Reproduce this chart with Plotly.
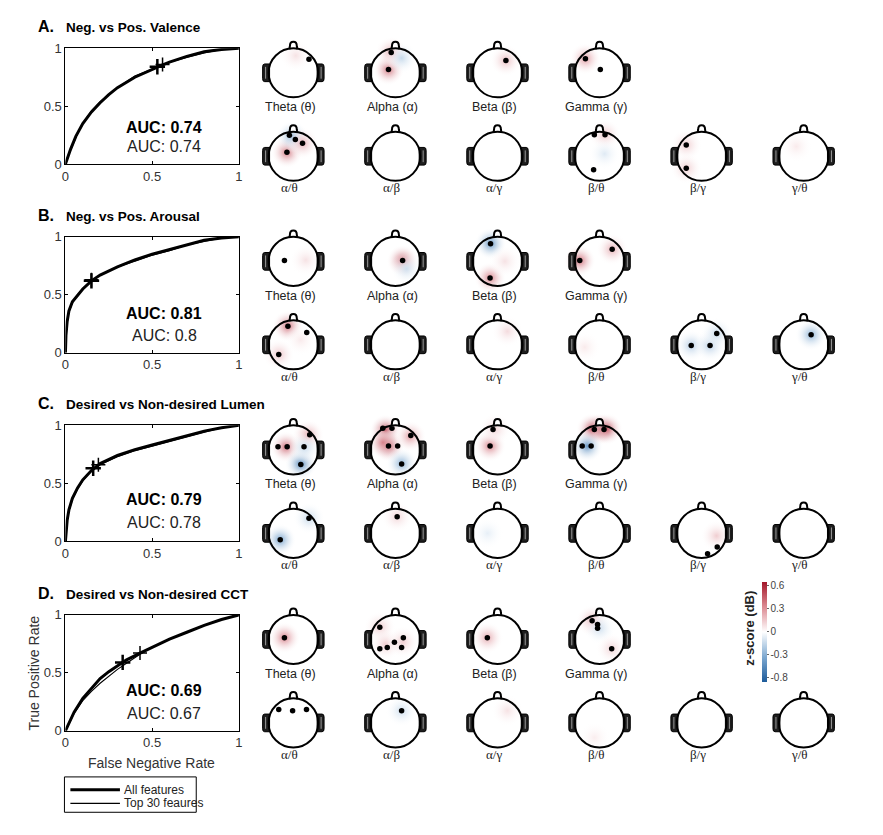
import plotly.graph_objects as go
from plotly.colors import sample_colorscale

# ---------------- DATA ----------------
panel_letters = ["A.", "B.", "C.", "D."]
panel_titles = ["Neg. vs Pos. Valence", "Neg. vs Pos. Arousal",
                "Desired vs Non-desired Lumen", "Desired vs Non-desired CCT"]
auc_all = ["0.74", "0.81", "0.79", "0.69"]
auc_top = ["0.74", "0.8", "0.78", "0.67"]

A_fpr = [0, 0.01, 0.03, 0.06, 0.1, 0.15, 0.2, 0.25, 0.3, 0.4, 0.5, 0.55, 0.6, 0.7, 0.8, 0.9, 1.0]
A_all = [0, 0.05, 0.13, 0.24, 0.35, 0.45, 0.53, 0.6, 0.66, 0.75, 0.82, 0.85, 0.88, 0.93, 0.97, 0.99, 1.0]
A_top = [0, 0.05, 0.12, 0.23, 0.35, 0.46, 0.54, 0.6, 0.66, 0.76, 0.82, 0.85, 0.88, 0.92, 0.96, 0.99, 1.0]
B_fpr = [0, 0.003, 0.01, 0.02, 0.04, 0.07, 0.1, 0.15, 0.2, 0.3, 0.4, 0.5, 0.6, 0.7, 0.8, 0.9, 1.0]
B_all = [0, 0.15, 0.27, 0.36, 0.44, 0.5, 0.55, 0.62, 0.67, 0.74, 0.8, 0.85, 0.89, 0.93, 0.97, 0.99, 1.0]
B_top = [0, 0.14, 0.26, 0.35, 0.43, 0.5, 0.55, 0.62, 0.67, 0.74, 0.79, 0.84, 0.88, 0.93, 0.96, 0.99, 1.0]
C_fpr = [0, 0.005, 0.01, 0.02, 0.04, 0.07, 0.1, 0.15, 0.2, 0.3, 0.4, 0.5, 0.6, 0.7, 0.8, 0.9, 1.0]
C_all = [0, 0.1, 0.18, 0.27, 0.37, 0.46, 0.53, 0.61, 0.67, 0.74, 0.79, 0.83, 0.87, 0.91, 0.95, 0.98, 1.0]
C_top = [0, 0.09, 0.17, 0.26, 0.36, 0.45, 0.52, 0.61, 0.66, 0.73, 0.78, 0.82, 0.86, 0.9, 0.94, 0.98, 1.0]
D_fpr = [0, 0.02, 0.05, 0.1, 0.15, 0.2, 0.25, 0.3, 0.35, 0.43, 0.5, 0.6, 0.7, 0.8, 0.9, 1.0]
D_all = [0, 0.07, 0.16, 0.28, 0.37, 0.45, 0.51, 0.56, 0.61, 0.67, 0.72, 0.79, 0.85, 0.91, 0.96, 1.0]
D_top = [0, 0.06, 0.15, 0.26, 0.34, 0.41, 0.47, 0.53, 0.58, 0.66, 0.72, 0.79, 0.85, 0.91, 0.96, 1.0]
roc_fpr = [A_fpr, B_fpr, C_fpr, D_fpr]
roc_all = [A_all, B_all, C_all, D_all]
roc_top = [A_top, B_top, C_top, D_top]
op_all = [(0.53, 0.84), (0.15, 0.62), (0.16, 0.63), (0.33, 0.59)]
op_top = [(0.56, 0.86), (0.15, 0.63), (0.19, 0.66), (0.43, 0.67)]

band_labels = ["Theta (θ)", "Alpha (α)", "Beta (β)", "Gamma (γ)"]
ratio_labels = ["α/θ", "α/β", "α/γ", "β/θ", "β/γ", "γ/θ"]

# selected-feature electrodes per head (head-relative, x right / y up)
dots_A = {0: [(0.63, 0.55)], 1: [(-0.17, 0.83), (-0.28, 0.13)], 2: [(0.34, 0.5)],
          3: [(-0.57, 0.57), (0.03, 0.13)],
          4: [(-0.16, 0.86), (0.08, 0.68), (0.37, 0.53), (-0.26, 0.16)],
          7: [(-0.21, 0.88), (0.22, 0.88), (-0.24, -0.55)], 8: [(-0.62, 0.46), (-0.62, -0.49)]}
dots_B = {0: [(-0.36, 0.03)], 1: [(0.29, 0.03)], 2: [(-0.28, 0.72), (-0.3, -0.68)],
          3: [(0.51, 0.49), (-0.8, 0.03)], 4: [(-0.22, 0.76), (0.54, 0.5), (-0.59, -0.39)],
          8: [(0.61, 0.46), (-0.42, -0.03), (0.34, -0.03)], 9: [(0.3, 0.41)]}
dots_C = {0: [(-0.62, 0.13), (-0.25, 0.13), (0.43, 0.13), (0.66, 0.62), (0.3, -0.59)],
          1: [(-0.51, 0.88), (-0.14, 0.88), (0.62, 0.59), (-0.28, 0.16), (0.09, 0.16), (0.25, -0.57)],
          2: [(-0.18, 0.83), (-0.3, 0.16)],
          3: [(-0.21, 0.83), (0.18, 0.83), (-0.7, 0.16), (-0.34, 0.16)],
          4: [(0.63, 0.62), (-0.53, -0.26)], 5: [(0.07, 0.68)], 8: [(0.63, -0.56), (0.24, -0.83)]}
dots_D = {0: [(-0.36, 0.07)],
          1: [(-0.63, 0.5), (-0.63, -0.38), (-0.33, -0.33), (-0.04, -0.11), (0.32, 0.07), (0.25, -0.33)],
          2: [(-0.41, 0.07)], 3: [(-0.3, 0.76), (-0.08, 0.61), (-0.08, 0.46), (0.49, -0.38)],
          4: [(-0.59, 0.55), (-0.03, 0.49), (0.53, 0.55)], 5: [(0.25, 0.49)]}
all_dots = [dots_A, dots_B, dots_C, dots_D]

# z-score blobs: (head, x, y, z)
blobs_A = [(0, 0.1, 0.7, 0.08), (1, -0.28, 0.13, 0.38), (1, -0.17, 0.83, 0.22), (1, 0.25, 0.6, -0.14),
           (2, 0.34, 0.5, 0.18), (3, -0.57, 0.57, 0.28), (4, -0.26, 0.16, 0.38), (4, -0.05, 0.8, -0.28),
           (4, 0.37, 0.53, 0.22), (7, 0.22, 0.88, 0.16), (7, 0.2, 0.1, -0.08), (8, -0.62, 0.46, 0.14),
           (8, -0.62, -0.49, 0.14), (9, -0.3, 0.4, 0.06)]
blobs_B = [(0, 0.5, 0.05, 0.08), (1, 0.29, 0.03, 0.45), (1, 0.45, -0.3, -0.12), (2, -0.28, 0.72, -0.4),
           (2, -0.3, -0.68, 0.35), (2, 0.3, 0.0, 0.08), (3, -0.8, 0.03, 0.4), (3, 0.51, 0.49, 0.22),
           (4, -0.22, 0.76, 0.4), (4, -0.59, -0.39, 0.16), (4, 0.3, 0.2, 0.06), (6, 0.4, 0.55, 0.1),
           (7, -0.6, -0.1, 0.06), (8, -0.42, -0.03, -0.18), (8, 0.34, -0.03, -0.18),
           (8, 0.61, 0.46, -0.14), (9, 0.3, 0.41, -0.28)]
blobs_C = [(0, -0.3, 0.12, 0.4), (0, 0.6, 0.6, 0.25), (0, 0.3, -0.57, -0.45), (0, 0.45, 0.1, -0.14),
           (1, -0.4, 0.8, 0.5), (1, -0.28, 0.16, 0.55), (1, -0.5, 0.3, 0.35), (1, 0.6, 0.55, 0.28),
           (1, 0.25, -0.55, -0.28), (2, -0.3, 0.16, 0.35), (2, -0.1, 0.85, 0.12),
           (3, 0.0, 0.85, 0.6), (3, -0.3, 0.85, 0.45), (3, 0.3, 0.85, 0.45), (3, -0.5, 0.15, -0.4),
           (4, -0.53, -0.26, -0.35), (4, 0.63, 0.62, -0.14), (5, 0.07, 0.68, 0.12), (6, -0.4, 0.0, -0.06),
           (8, 0.6, -0.1, 0.14)]
blobs_D = [(0, -0.36, 0.07, 0.35), (1, -0.63, 0.5, 0.14), (1, -0.4, -0.2, 0.14), (1, 0.3, -0.1, 0.14),
           (2, -0.41, 0.07, 0.24), (3, -0.3, 0.76, 0.22), (3, 0.0, 0.45, -0.12), (3, 0.49, -0.38, 0.12),
           (5, 0.25, 0.49, -0.12), (6, 0.4, 0.5, 0.08), (7, -0.2, -0.6, 0.05)]
all_blobs = [blobs_A, blobs_B, blobs_C, blobs_D]

cbar_vals = [0.6, 0.3, 0, -0.3, -0.6]
cbar_text = ["0.6", "0.3", "0", "-0.3", "-0.8"]

# ---------------- LAYOUT ----------------
W, H = 883, 835
FONT = "Arial, Liberation Sans, sans-serif"
SERIF = "Liberation Serif, Times New Roman, serif"
group_top = [20, 212, 404, 597]
roc_x0, roc_x1 = 62, 237
roc_off, roc_h = 22, 118
head_cx = [292, 395, 498, 601, 704, 807]
row_off = [47, 132]
R = 25
ZMIN, ZMAX = -0.65, 0.65
auc_bold_y = [0.32, 0.34, 0.36, 0.35]
auc_norm_y = [0.155, 0.145, 0.165, 0.145]

fig = go.Figure()
layout = dict(width=W, height=H, margin=dict(l=0, r=0, t=0, b=0),
              paper_bgcolor="white", plot_bgcolor="rgba(0,0,0,0)", showlegend=False,
              font=dict(family=FONT, color="#222"))
annotations = []
shapes = []

for i in range(4):
    k = i + 1
    top = group_top[i] + roc_off
    bot = top + roc_h
    ax = dict(domain=[roc_x0 / W, roc_x1 / W], range=[0, 1], showgrid=False, zeroline=False,
              showline=True, linecolor="black", linewidth=1, mirror="ticks", ticks="inside",
              ticklen=3, tickcolor="black", tickvals=[0, 0.5, 1], ticktext=["0", "0.5", "1"],
              tickfont=dict(size=13, color="#333"), anchor=f"y{k}", fixedrange=True)
    ay = dict(ax)
    ay["domain"] = [1 - bot / H, 1 - top / H]
    ay["anchor"] = f"x{k}"
    layout[f"xaxis{k}"] = ax
    layout[f"yaxis{k}"] = ay
    xa, ya = f"x{k}", f"y{k}"
    fig.add_trace(go.Scatter(x=roc_fpr[i], y=roc_top[i], mode="lines", xaxis=xa, yaxis=ya,
                             line=dict(color="black", width=1.1), name="Top 30 feaures"))
    fig.add_trace(go.Scatter(x=roc_fpr[i], y=roc_all[i], mode="lines", xaxis=xa, yaxis=ya,
                             line=dict(color="black", width=3), name="All features"))
    fig.add_trace(go.Scatter(x=[op_top[i][0]], y=[op_top[i][1]], mode="markers", xaxis=xa, yaxis=ya,
                             marker=dict(symbol="cross-thin", size=10, line=dict(color="black", width=1.5))))
    fig.add_trace(go.Scatter(x=[op_all[i][0]], y=[op_all[i][1]], mode="markers", xaxis=xa, yaxis=ya,
                             marker=dict(symbol="cross-thin", size=11, line=dict(color="black", width=2.5))))
    annotations.append(dict(xref=xa, yref=ya, x=0.57, y=auc_bold_y[i], text="<b>AUC: " + auc_all[i] + "</b>",
                            showarrow=False, font=dict(size=16, color="black")))
    annotations.append(dict(xref=xa, yref=ya, x=0.57, y=auc_norm_y[i], text="AUC: " + auc_top[i],
                            showarrow=False, font=dict(size=16, color="#222")))
    annotations.append(dict(xref="x5", yref="y5", x=32, y=group_top[i], xanchor="left", yanchor="middle",
                            text="<b>" + panel_letters[i] + "</b>", showarrow=False, font=dict(size=16, color="black")))
    annotations.append(dict(xref="x5", yref="y5", x=61, y=group_top[i] + 1, xanchor="left", yanchor="middle",
                            text="<b>" + panel_titles[i] + "</b>", showarrow=False, font=dict(size=13.5, color="black")))

layout["xaxis5"] = dict(domain=[0, 1], range=[0, W], visible=False, anchor="y5", fixedrange=True)
layout["yaxis5"] = dict(domain=[0, 1], range=[H, 0], visible=False, anchor="x5", fixedrange=True)


def head_center(g, h):
    if h < 4:
        return head_cx[h], group_top[g] + row_off[0]
    return head_cx[h - 4], group_top[g] + row_off[1]


bx, by, bcol = [], [], []
dx, dy = [], []
cscale = [[0, "#1d5b9a"], [0.25, "#7ea9d1"], [0.5, "#ffffff"], [0.75, "#dc8b93"], [1, "#a3172b"]]

for g in range(4):
    for h in range(10):
        cx, cy = head_center(g, h)
        t = cy - R
        shapes.append(dict(type="path", xref="x5", yref="y5",
                           path=f"M {cx-4},{t+1} L {cx-3.5},{t-2} C {cx-3.5},{t-8} {cx+3.5},{t-8} {cx+3.5},{t-2} L {cx+4},{t+1}",
                           line=dict(color="black", width=2), fillcolor="white", layer="above"))
        for s in (-1, 1):
            e0 = cx + s * (R - 1)
            e1 = cx + s * (R + 6)
            shapes.append(dict(type="path", xref="x5", yref="y5",
                               path=f"M {e0},{cy-9} L {e1-s*2},{cy-9} Q {e1},{cy-9} {e1},{cy-6} L {e1},{cy+6} Q {e1},{cy+9} {e1-s*2},{cy+9} L {e0},{cy+9} Z",
                               line=dict(color="black", width=1), fillcolor="#1e1e1e", layer="above"))
            shapes.append(dict(type="line", xref="x5", yref="y5", x0=cx + s * (R + 3), x1=cx + s * (R + 3),
                               y0=cy - 6, y1=cy + 6, line=dict(color="#9a9a9a", width=1), layer="above"))
        shapes.append(dict(type="circle", xref="x5", yref="y5", x0=cx - R, x1=cx + R, y0=cy - R, y1=cy + R,
                           line=dict(color="black", width=2), layer="above"))
        for (ux, uy) in all_dots[g].get(h, []):
            dx.append(cx + ux * R)
            dy.append(cy - uy * R)
        if h < 4:
            annotations.append(dict(xref="x5", yref="y5", x=cx - 3, y=cy + 35, text=band_labels[h],
                                    showarrow=False, font=dict(size=12.5, color="#222")))
        else:
            annotations.append(dict(xref="x5", yref="y5", x=cx - 4, y=cy + 32, text=ratio_labels[h - 4],
                                    showarrow=False, font=dict(size=13, family=SERIF, color="#222")))
    for (h, ux, uy, z) in all_blobs[g]:
        cx, cy = head_center(g, h)
        bx.append(cx + ux * R)
        by.append(cy - uy * R)
        bcol.append(sample_colorscale(cscale, [(z - ZMIN) / (ZMAX - ZMIN)])[0])

# z-score blobs: colour at centre fading to transparent at the rim
fig.add_trace(go.Scatter(x=bx, y=by, mode="markers", xaxis="x5", yaxis="y5", hoverinfo="skip",
                         marker=dict(size=32, color="rgba(255,255,255,0)",
                                     gradient=dict(type="radial", color=bcol), line=dict(width=0))))
# colour bar carrier
fig.add_trace(go.Scatter(x=[bx[0]], y=[by[0]], mode="markers", xaxis="x5", yaxis="y5", hoverinfo="skip",
                         marker=dict(size=1, opacity=0, color=[0], colorscale=cscale, cmin=ZMIN, cmax=ZMAX,
                                     showscale=True,
                                     colorbar=dict(x=765 / W, xanchor="left", y=1 - 636 / H, yanchor="middle",
                                                   len=100, lenmode="pixels", thickness=5, xpad=0, ypad=0,
                                                   outlinewidth=0, tickvals=cbar_vals, ticktext=cbar_text,
                                                   ticks="outside", ticklen=2, tickcolor="#666",
                                                   tickfont=dict(size=10, color="#444")))))
fig.add_trace(go.Scatter(x=dx, y=dy, mode="markers", xaxis="x5", yaxis="y5", hoverinfo="skip",
                         marker=dict(size=5.5, color="black")))

annotations.append(dict(xref="x5", yref="y5", x=752, y=633, text="<b>z-score (dB)</b>", textangle=-90,
                        showarrow=False, font=dict(size=13, color="#222")))
annotations.append(dict(xref="x5", yref="y5", x=30, y=678, text="True Positive Rate", textangle=-90,
                        showarrow=False, font=dict(size=14, color="#333")))
annotations.append(dict(xref="x5", yref="y5", x=149, y=770, text="False Negative Rate",
                        showarrow=False, font=dict(size=14, color="#333")))
shapes.append(dict(type="rect", xref="x5", yref="y5", x0=61, x1=194, y0=784, y1=820,
                   line=dict(color="black", width=1)))
shapes.append(dict(type="line", xref="x5", yref="y5", x0=67, x1=117, y0=797, y1=797,
                   line=dict(color="black", width=3)))
shapes.append(dict(type="line", xref="x5", yref="y5", x0=67, x1=117, y0=811, y1=811,
                   line=dict(color="black", width=1.2)))
annotations.append(dict(xref="x5", yref="y5", x=119, y=797, xanchor="left", text="All features",
                        showarrow=False, font=dict(size=12, color="#222")))
annotations.append(dict(xref="x5", yref="y5", x=119, y=811, xanchor="left", text="Top 30 feaures",
                        showarrow=False, font=dict(size=12, color="#222")))

layout["annotations"] = annotations
layout["shapes"] = shapes
fig.update_layout(**layout)
fig.write_html("out.html")
